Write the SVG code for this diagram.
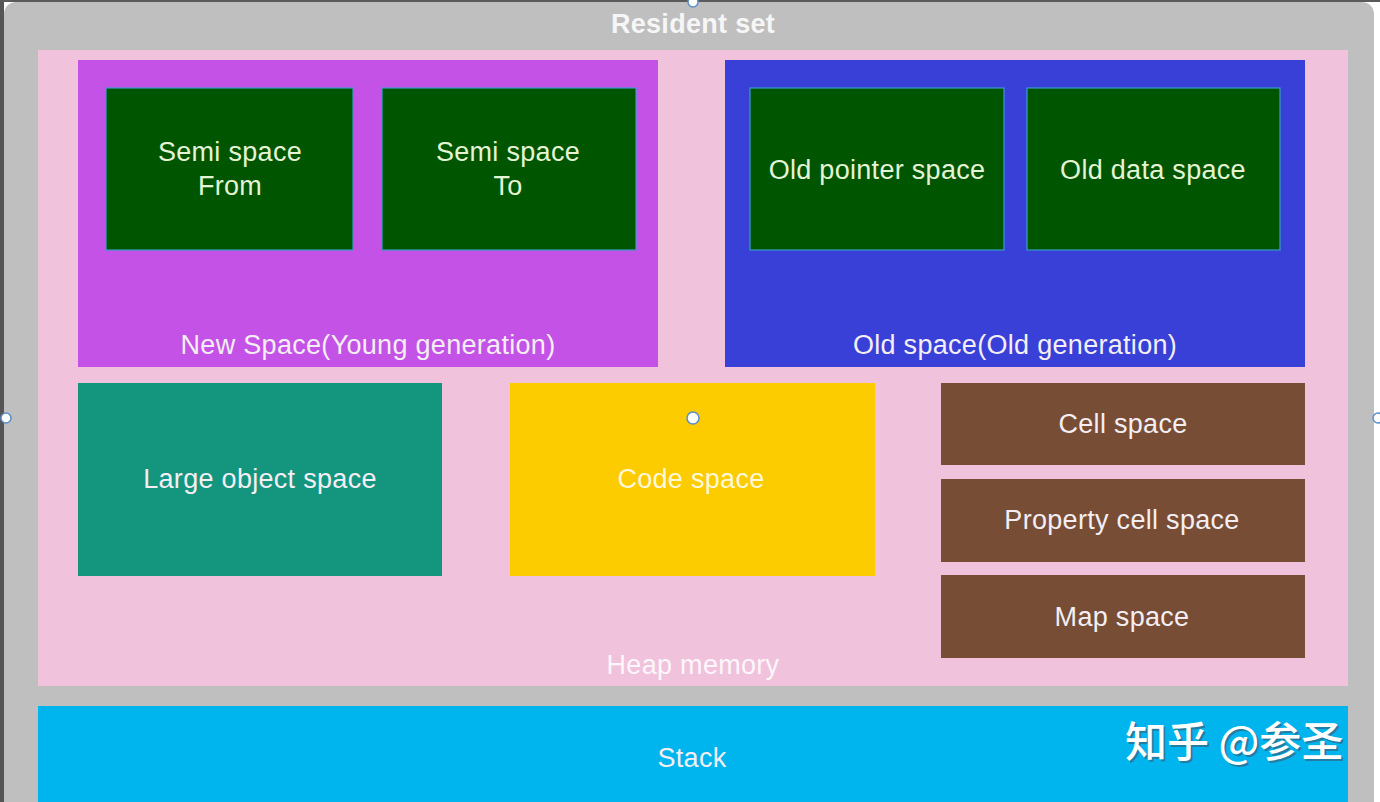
<svg xmlns="http://www.w3.org/2000/svg" width="1380" height="802" viewBox="0 0 1380 802">
<style>
  .t { font-family: "Liberation Sans", Arial, sans-serif; font-size: 27px; text-anchor: middle; letter-spacing: 0.3px; }
  .lt { fill: #f3eef3; }
  .gt { fill: #e4f4d4; }
  .green { fill: #005500; stroke: #3a9ac8; stroke-width: 1.2; }
  .brown { fill: #774d35; }
  .handle { fill: #ffffff; stroke: #5a8fc8; stroke-width: 1.5; }
  .wm { font-family: "Noto Sans CJK SC", sans-serif; font-size: 42px; font-weight: 500; }
</style>
<rect x="0" y="0" width="1380" height="802" fill="#ffffff"/>
<rect x="0" y="0" width="4" height="802" fill="#555555"/>
<rect x="0" y="0" width="1380" height="2" fill="#5a5a5a"/>
<g id="resident-set">
  <rect x="4" y="2" width="1370" height="830" rx="12" fill="#bfbfbf"/>
  <text class="t" x="693" y="33" font-weight="bold" fill="#f6f6f6" letter-spacing="0.6">Resident set</text>
</g>
<g id="heap-memory">
  <rect x="38" y="50" width="1310" height="636" fill="#f0c2dc"/>
  <text class="t" x="693" y="674" fill="#fdf6fb">Heap memory</text>
</g>
<g id="new-space">
  <rect x="78" y="60" width="580" height="307" fill="#c452e6"/>
  <text class="t lt" x="368" y="354">New Space(Young generation)</text>
</g>
<g id="semi-from">
  <rect class="green" x="106" y="88" width="247" height="162"/>
  <text class="t gt" x="230" y="161">Semi space</text>
  <text class="t gt" x="230" y="195">From</text>
</g>
<g id="semi-to">
  <rect class="green" x="382" y="88" width="254" height="162"/>
  <text class="t gt" x="508" y="161">Semi space</text>
  <text class="t gt" x="508" y="195">To</text>
</g>
<g id="old-space">
  <rect x="725" y="60" width="580" height="307" fill="#3940d8"/>
  <text class="t lt" x="1015" y="354">Old space(Old generation)</text>
</g>
<g id="old-pointer-space">
  <rect class="green" x="750" y="88" width="254" height="162"/>
  <text class="t gt" x="877" y="179">Old pointer space</text>
</g>
<g id="old-data-space">
  <rect class="green" x="1027" y="88" width="253" height="162"/>
  <text class="t gt" x="1153" y="179">Old data space</text>
</g>
<g id="large-object-space">
  <rect x="78" y="383" width="364" height="193" fill="#14957e"/>
  <text class="t lt" x="260" y="488">Large object space</text>
</g>
<g id="code-space">
  <rect x="510" y="383" width="365" height="193" fill="#fccb00"/>
  <text class="t" x="691" y="488" fill="#fff8d8">Code space</text>
</g>
<g id="cell-space">
  <rect class="brown" x="941" y="383" width="364" height="82"/>
  <text class="t lt" x="1123" y="433">Cell space</text>
</g>
<g id="property-cell-space">
  <rect class="brown" x="941" y="479" width="364" height="83"/>
  <text class="t lt" x="1122" y="529">Property cell space</text>
</g>
<g id="map-space">
  <rect class="brown" x="941" y="575" width="364" height="83"/>
  <text class="t lt" x="1122" y="626">Map space</text>
</g>
<g id="stack">
  <rect x="38" y="706" width="1310" height="100" fill="#00b4ee"/>
  <text class="t lt" x="692" y="767">Stack</text>
</g>
<g id="connectors"></g>
<g id="handles">
  <circle class="handle" cx="693" cy="2" r="5"/>
  <circle class="handle" cx="6" cy="418" r="5"/>
  <circle class="handle" cx="1378" cy="418" r="5"/>
  <circle class="handle" cx="693" cy="418" r="6"/>
</g>
<g id="watermark">
  <text class="wm" x="1127" y="759" fill="#3a5a70" opacity="0.6">知乎 @参圣</text>
  <text class="wm" x="1125" y="757" fill="#ffffff">知乎 @参圣</text>
</g>
</svg>
